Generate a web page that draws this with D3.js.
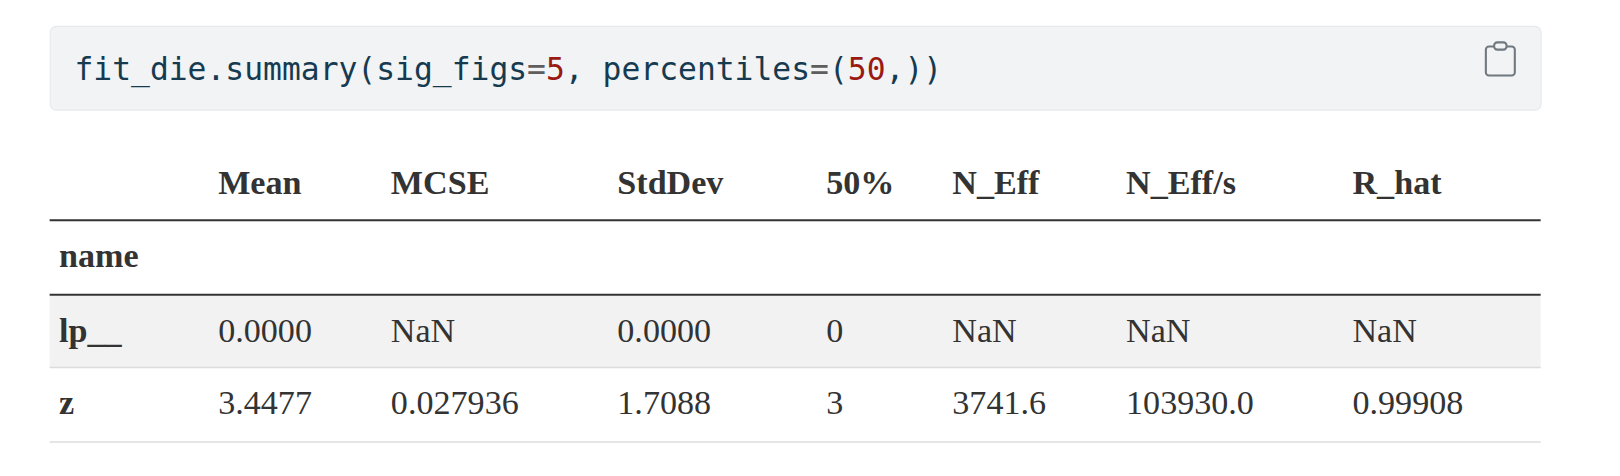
<!DOCTYPE html>
<html><head><meta charset="utf-8">
<script src="https://cdn.jsdelivr.net/npm/d3@7"></script>
<style>body{margin:0;background:#fff}</style></head>
<body><script>
const columns = ["Mean","MCSE","StdDev","50%","N_Eff","N_Eff/s","R_hat"];
const indexName = "name";
const rowNames = ["lp__","z"];
const rowLp = ["0.0000","NaN","0.0000","0","NaN","NaN","NaN"];
const rowZ = ["3.4477","0.027936","1.7088","3","3741.6","103930.0","0.99908"];
const rows = [rowLp, rowZ];

const W=1620,H=476;
const root=d3.select("body").append("svg").attr("width",W).attr("height",H);
const svg=root.append("g").attr("transform","scale(1.034)");
const colX=[211,378,597,799,921,1089,1308];
const serif="'Liberation Serif','DejaVu Serif',serif";
// code block
svg.append("rect").attr("x",48.5).attr("y",25.5).attr("width",1442).attr("height",81).attr("rx",6)
 .attr("fill","#f1f3f5").attr("stroke","#e6e9ec");
const code=svg.append("text").attr("x",72).attr("y",77).attr("font-family","'DejaVu Sans Mono',monospace")
 .attr("font-size",30.3).attr("fill","#163a4f").attr("xml:space","preserve");
[["fit_die.summary(sig_figs","#163a4f"],["=","#5e5e5e"],["5","#9a1a12"],[", percentiles","#163a4f"],["=","#5e5e5e"],["(","#163a4f"],["50","#9a1a12"],[",))","#163a4f"]]
 .forEach(([t,c])=>code.append("tspan").attr("fill",c).text(t));
// clipboard icon
const ic=svg.append("g").attr("fill","none").attr("stroke","#707880").attr("stroke-width",2);
ic.append("rect").attr("x",1437).attr("y",45).attr("width",28).attr("height",28).attr("rx",3);
ic.append("rect").attr("x",1445).attr("y",41).attr("width",12).attr("height",7).attr("rx",3).attr("fill","#f1f3f5");
// table
const fs=33;
svg.append("rect").attr("x",48).attr("y",286).attr("width",1442).attr("height",69).attr("fill","#f2f2f2");
svg.selectAll("text.h").data(columns).join("text").attr("class","h")
 .attr("x",(d,i)=>colX[i]).attr("y",188).text(d=>d)
 .attr("font-family",serif).attr("font-weight","bold").attr("font-size",fs).attr("fill","#333");
svg.append("text").attr("x",57).attr("y",258).text(indexName)
 .attr("font-family",serif).attr("font-weight","bold").attr("font-size",fs).attr("fill","#333");
const rowY=[331,400];
rows.forEach((r,ri)=>{
  svg.append("text").attr("x",57).attr("y",rowY[ri]).text(rowNames[ri])
   .attr("font-family",serif).attr("font-weight","bold").attr("font-size",fs).attr("fill","#333");
  svg.selectAll(null).data(r).join("text").attr("x",(d,i)=>colX[i]).attr("y",rowY[ri]).text(d=>d)
   .attr("font-family",serif).attr("font-size",fs).attr("fill","#333");
});
[[213,"#333",2],[285,"#333",2],[355.5,"#dcdcdc",1.5],[427.5,"#dcdcdc",1.5]].forEach(([y,c,w])=>
 svg.append("line").attr("x1",48).attr("x2",1490).attr("y1",y).attr("y2",y).attr("stroke",c).attr("stroke-width",w));
</script></body></html>
